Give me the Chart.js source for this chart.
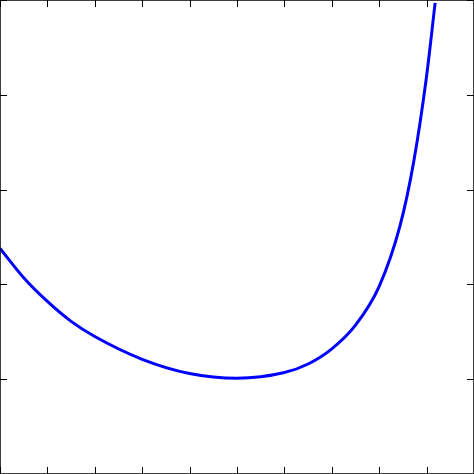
<!DOCTYPE html>
<html><head><style>html,body{margin:0;padding:0;background:#fff}#w{width:474px;height:474px}</style>
<script src="https://cdn.jsdelivr.net/npm/chart.js@4/dist/chart.umd.min.js"></script></head>
<body><div id="w"><canvas id="c"></canvas></div>
<script>
const xValues=[0,0.5,1,1.5,2,3,4,5,6,6.5,7,7.5,8,8.44,8.73,8.99,9.18];
const yValues=[2.38,2.07,1.82,1.61,1.45,1.21,1.06,1.01,1.07,1.16,1.32,1.57,1.98,2.62,3.3,4.16,4.97];
const xTicks=[0,1,2,3,4,5,6,7,8,9,10];
const yTicks=[0,1,2,3,4,5];
const tickPlugin={id:'ticks',afterDraw(ch){
 const c=ch.ctx,a=ch.chartArea,xs=ch.scales.x,ys=ch.scales.y;
 c.save();c.strokeStyle='#000';c.lineWidth=1;c.beginPath();
 xTicks.forEach(v=>{const p=Math.round(xs.getPixelForValue(v))+0.5;c.moveTo(p,a.bottom);c.lineTo(p,a.bottom-7);c.moveTo(p,a.top);c.lineTo(p,a.top+7);});
 yTicks.forEach(v=>{const p=Math.round(ys.getPixelForValue(v))+0.5;c.moveTo(a.left,p);c.lineTo(a.left+7,p);c.moveTo(a.right,p);c.lineTo(a.right-7,p);});
 c.stroke();c.lineWidth=1.5;c.strokeRect(a.left,a.top,a.right-a.left,a.bottom-a.top);c.restore();}};
new Chart(document.getElementById('c'),{type:'line',
 data:{datasets:[{data:xValues.map((x,i)=>({x,y:yValues[i]})),borderColor:'#0000ff',borderWidth:3,pointRadius:0,cubicInterpolationMode:'monotone'}]},
 options:{responsive:true,maintainAspectRatio:false,animation:false,layout:{padding:0},
  plugins:{legend:{display:false},tooltip:{enabled:false}},
  scales:{x:{type:'linear',min:0,max:10,display:false},y:{type:'linear',min:0,max:5,display:false}}},
 plugins:[tickPlugin]});
</script></body></html>
